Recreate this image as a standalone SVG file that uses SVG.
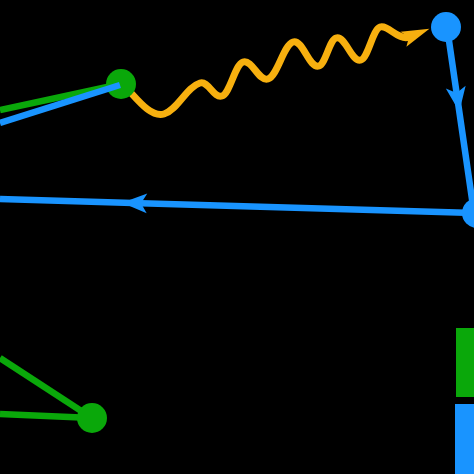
<svg xmlns="http://www.w3.org/2000/svg" width="474" height="474" viewBox="0 0 474 474">
  <style>
    .bg { fill: #000000; }
    .g { stroke: #0aa80a; stroke-width: 6.5; fill: none; stroke-linecap: butt; }
    .b { stroke: #1994ff; stroke-width: 6.5; fill: none; stroke-linecap: butt; }
    .o { stroke: #f7b00f; stroke-width: 7; fill: none; stroke-linecap: round; stroke-linejoin: round; }
    .gn { fill: #0aa80a; }
    .bn { fill: #1994ff; }
  </style>
  <defs>
    <marker id="arrB" markerUnits="userSpaceOnUse" markerWidth="26" markerHeight="22" refX="6" refY="10" orient="auto" overflow="visible">
      <path d="M0,0 L25,10 L0,20 L6,10 Z" fill="#1994ff"/>
    </marker>
    <marker id="arrO" markerUnits="userSpaceOnUse" markerWidth="30" markerHeight="18" refX="6" refY="8" orient="auto" overflow="visible">
      <path d="M0,0 L28,8 L0,16 L6,8 Z" fill="#f7b00f"/>
    </marker>
  </defs>
  <rect class="bg" x="0" y="0" width="474" height="474"/>

  <g id="connectors">
    <line class="g" x1="0" y1="110" x2="121" y2="84"/>
    <path class="b" d="M476,213 L141,203.2 L0,199" marker-mid="url(#arrB)"/>
    <path class="b" d="M447,27 L456.6,93 L474,213" marker-mid="url(#arrB)"/>
    <path class="o" d="M132,94 C141,104 153,117.3 164,114 C177.7,109.9 186.3,87.1 200,83 C208.4,80.5 213.6,98.5 222,96 C230,93.6 235,64.4 243,62 C252.5,59.15 258.5,81.85 268,79 C277.5,76.15 283.5,44.85 293,42 C302.9,39 309.1,69 319,66 C325.5,64.05 329.5,39.95 336,38 C345.5,35.15 351.5,62.85 361,60 C368.2,57.8 372.8,29.2 380,27 C388,24.6 399,41 409,37" marker-end="url(#arrO)"/>
    <line class="g" x1="0" y1="358" x2="92" y2="418"/>
    <line class="g" x1="0" y1="414" x2="92" y2="418"/>
  </g>

  <g id="node-green-top">
    <circle class="gn" cx="121" cy="84" r="15"/>
  </g>
  <g id="connector-blue-left">
    <line class="b" x1="0" y1="123" x2="120" y2="85"/>
  </g>
  <g id="node-blue-top">
    <circle class="bn" cx="446" cy="27" r="15"/>
  </g>
  <g id="node-blue-right">
    <circle class="bn" cx="477" cy="213" r="15"/>
  </g>
  <g id="node-green-bottom">
    <circle class="gn" cx="92" cy="418" r="15"/>
  </g>
  <g id="legend">
    <rect x="456" y="328" width="18" height="69" fill="#0aa80a"/>
    <rect x="455" y="404" width="19" height="70" fill="#1994ff"/>
  </g>
</svg>
